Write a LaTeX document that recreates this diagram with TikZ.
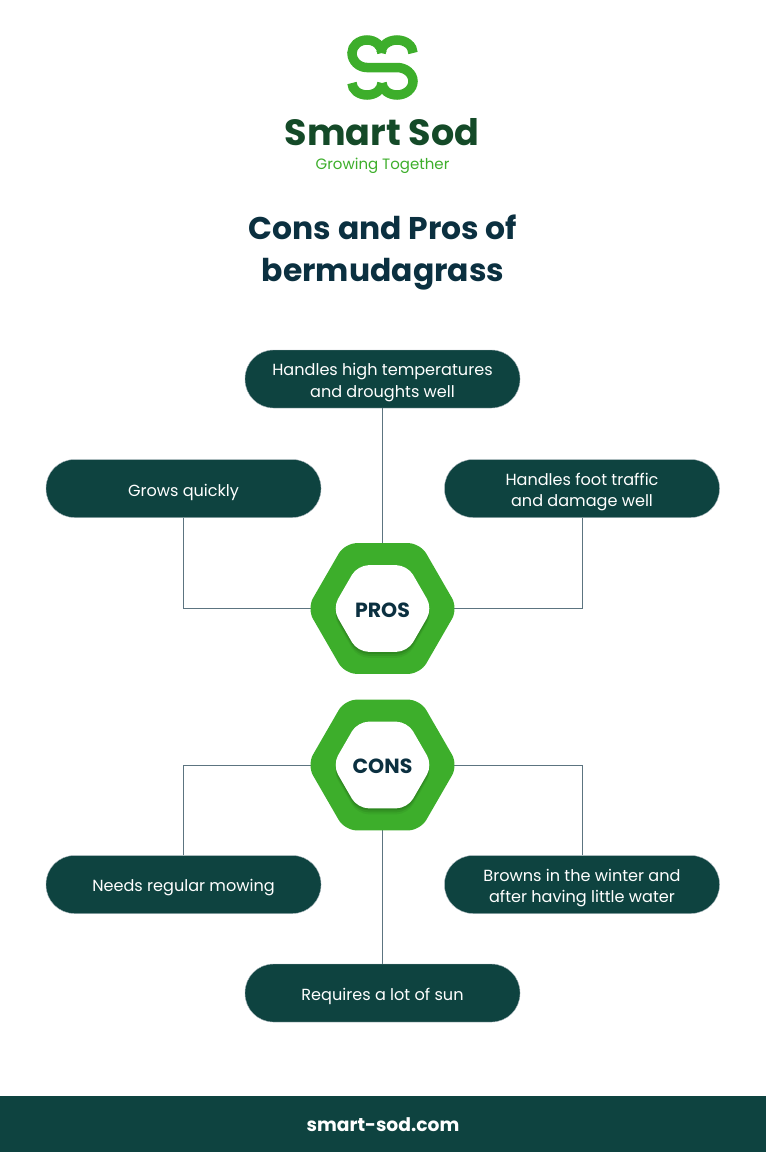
\documentclass[tikz,border=0pt]{standalone}
\usepackage{xcolor}
\usepackage{fontspec}
\setmainfont{Poppins}
\usetikzlibrary{positioning,shapes.geometric,shadows,backgrounds}
\definecolor{sodteal}{HTML}{0E4340}
\definecolor{sodink}{HTML}{0B3040}
\definecolor{sodgreen}{HTML}{3DAE2B}
\definecolor{sodleaf}{HTML}{144A28}
\definecolor{sodline}{HTML}{5C7480}

\begin{document}
\begin{tikzpicture}[
  x=1pt, y=-1pt,
  card/.style={draw=sodline!50, line width=0.4pt, fill=sodteal, rectangle, rounded corners=28.5pt, minimum width=275pt, minimum height=58pt, inner sep=0pt},
  cardtext/.style={align=center, text=white, yshift=-3.5pt, font=\fontsize{16.1}{21.5}\selectfont},
  hexout/.style={regular polygon, regular polygon sides=6, fill=sodgreen, minimum size=151pt, inner sep=0pt, rounded corners=12pt},
  hexin/.style={regular polygon, regular polygon sides=6, fill=white, minimum size=100pt, inner sep=0pt, rounded corners=11pt,
    drop shadow={shadow xshift=0pt, shadow yshift=-6pt, fill=black, opacity=0.05},
    drop shadow={shadow xshift=0pt, shadow yshift=-4pt, fill=black, opacity=0.08},
    drop shadow={shadow xshift=0pt, shadow yshift=-2pt, fill=black, opacity=0.10}},
  hextext/.style={text=sodink, yshift=-1.5pt, font=\fontsize{20.5}{20.5}\selectfont\bfseries},
  link/.style={draw=sodline, line width=1pt},
  logo/.style={draw=sodgreen, line width=9.5pt},
]
  \useasboundingbox (0,0) rectangle (768,1152);

  % logo mark and heading
  \draw[logo] (413,53) arc[start angle=0, end angle=180, x radius=16pt, y radius=13pt]
    (382,53) arc[start angle=0, end angle=180, x radius=15pt, y radius=13pt]
    arc[start angle=180, end angle=270, x radius=15pt, y radius=14.5pt] -- (397,67.5)
    arc[start angle=90, end angle=-90, x radius=16pt, y radius=13.75pt]
    arc[start angle=-90, end angle=-180, x radius=15pt, y radius=12pt];
  \draw[logo] (352,83) arc[start angle=180, end angle=360, x radius=15pt, y radius=12pt];
  \node[text=sodleaf, font=\fontsize{36.5}{36.5}\selectfont\bfseries] (brand) at (382,132) {Smart Sod};
  \node[text=sodgreen, font=\fontsize{15}{15}\selectfont] (motto) at (382.5,166) {Growing Together};
  \node[text=sodink, align=center, font=\fontsize{31.4}{42}\selectfont\bfseries] (title) at (383,253) {Cons and Pros of\\bermudagrass};

  % hexagons in the middle
  \node[hexout] (pros) at (382.5,608.5) {};
  \node[hexin, label={[hextext]center:PROS}] (proslabel) at (pros.center) {};
  \node[hexout] (cons) at (382.5,765) {};
  \node[hexin, label={[hextext]center:CONS}] (conslabel) at (cons.center) {};

  \node[card, label={[cardtext]center:Handles high temperatures\\and droughts well}] (heat) at (382.5,379) {};
  \node[card, label={[cardtext]center:Grows quickly}] (quick) at (183.5,488.5) {};
  \node[card, label={[cardtext]center:Handles foot traffic\\and damage well}] (foot) at (582,488.5) {};
  \node[card, label={[cardtext]center:Needs regular mowing}] (mow) at (183.5,884.5) {};
  \node[card, label={[cardtext]center:Browns in the winter and\\after having little water}] (brown) at (582,884.5) {};
  \node[card, label={[cardtext]center:Requires a lot of sun}] (sun) at (382.5,993) {};

  % connectors go under the hexagons
  \begin{scope}[on background layer]
    \draw[link] (heat.south) -- (pros.center);
    \draw[link] (quick.south) |- (pros.center);
    \draw[link] (foot.south) |- (pros.center);
    \draw[link] (cons.center) -- (sun.north);
    \draw[link] (mow.north) |- (cons.center);
    \draw[link] (brown.north) |- (cons.center);
  \end{scope}

  \node[fill=sodteal, minimum width=766pt, minimum height=56pt, inner sep=0pt, text=white, text depth=0pt, font=\fontsize{18.7}{18.7}\selectfont\bfseries] (site) at (383,1124) {\raisebox{-2pt}{smart-sod.com}};
\end{tikzpicture}
\end{document}
